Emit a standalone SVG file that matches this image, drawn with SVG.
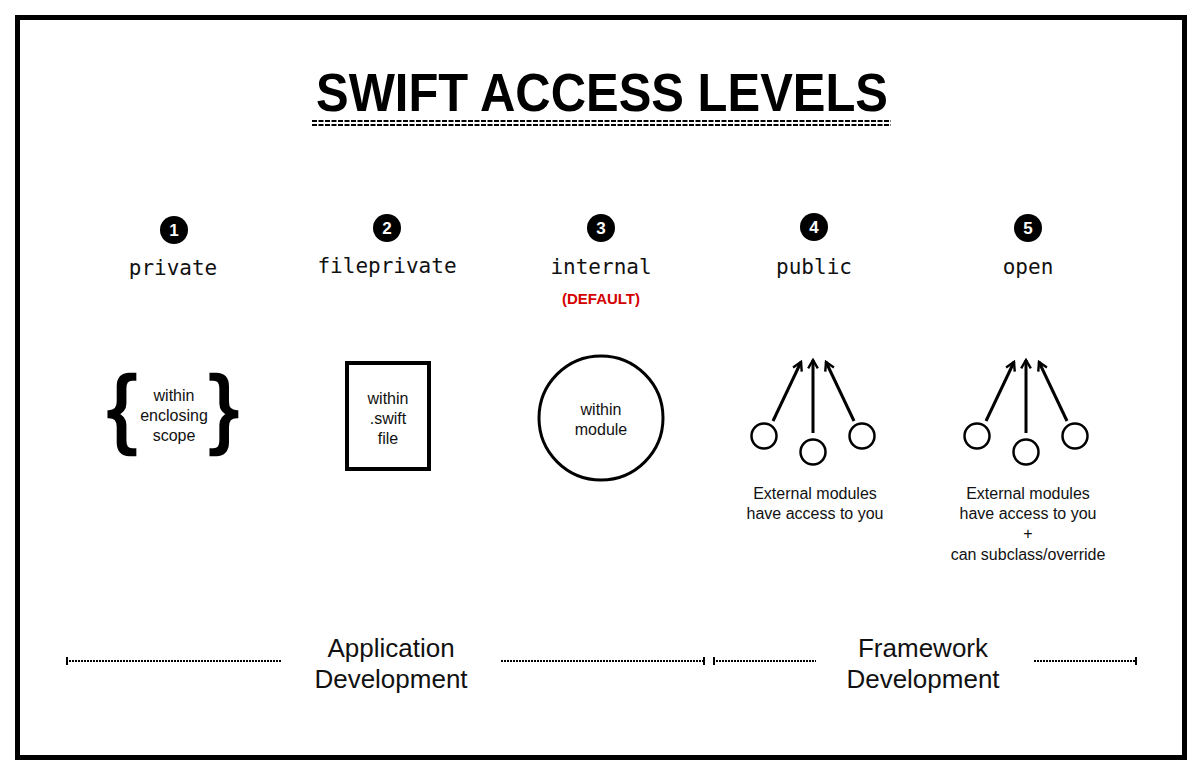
<svg xmlns="http://www.w3.org/2000/svg" width="1200" height="768" viewBox="0 0 1200 768">
<style>
.title{font-family:"Liberation Sans",Arial,sans-serif;font-weight:bold;font-size:54px;fill:#000}
.num{font-family:"Liberation Sans",Arial,sans-serif;font-weight:bold;font-size:17px;fill:#fff}
.mono{font-family:"DejaVu Sans Mono","Liberation Mono",monospace;font-size:21px;fill:#111}
.lbl{font-family:"Liberation Sans",Arial,sans-serif;font-size:16px;fill:#111}
.big{font-family:"Liberation Sans",Arial,sans-serif;font-size:26px;fill:#111}
.def{font-family:"Liberation Sans",Arial,sans-serif;font-weight:bold;font-size:15px;fill:#d40000}
.brace{font-family:"Liberation Sans",Arial,sans-serif;font-size:88px;fill:#000;stroke:#000;stroke-width:2.5}
.ring{fill:none;stroke:#000;stroke-width:2.5}
.arr{fill:none;stroke:#000;stroke-width:3;marker-end:url(#ah)}
.dl{stroke:#000;stroke-width:2;stroke-dasharray:2 1}
.tick{stroke:#000;stroke-width:2}
</style>
<defs>
<marker id="ah" viewBox="0 0 10 10" refX="8" refY="5" markerWidth="4" markerHeight="4" orient="auto" markerUnits="strokeWidth">
<path d="M1,1 L8,5 L1,9" fill="none" stroke="#000" stroke-width="2"/>
</marker>
</defs>
<rect x="0" y="0" width="1200" height="768" fill="#fff"/>
<rect x="17.5" y="17.5" width="1167" height="740" fill="none" stroke="#000" stroke-width="5"/>

<g id="title">
<text class="title" x="602" y="111" text-anchor="middle" textLength="572" lengthAdjust="spacingAndGlyphs">SWIFT ACCESS LEVELS</text>
<line x1="312" y1="121" x2="891" y2="121" stroke="#000" stroke-width="2" stroke-dasharray="5 1.5"/>
<line x1="312" y1="125" x2="891" y2="125" stroke="#000" stroke-width="2" stroke-dasharray="5 1.5"/>
</g>

<g id="private">
<circle cx="174" cy="230" r="14" fill="#000"/>
<text class="num" x="174" y="236" text-anchor="middle">1</text>
<text class="mono" x="173" y="275" text-anchor="middle">private</text>
<text class="brace" x="122" y="437" text-anchor="middle">{</text>
<text class="brace" x="224" y="437" text-anchor="middle">}</text>
<text class="lbl" x="174" y="401" text-anchor="middle">within</text>
<text class="lbl" x="174" y="421" text-anchor="middle">enclosing</text>
<text class="lbl" x="174" y="441" text-anchor="middle">scope</text>
</g>

<g id="fileprivate">
<circle cx="387" cy="228" r="14" fill="#000"/>
<text class="num" x="387" y="234" text-anchor="middle">2</text>
<text class="mono" x="387" y="273" text-anchor="middle">fileprivate</text>
<rect x="347" y="363" width="82" height="106" fill="none" stroke="#000" stroke-width="4"/>
<text class="lbl" x="388" y="404" text-anchor="middle">within</text>
<text class="lbl" x="388" y="424" text-anchor="middle">.swift</text>
<text class="lbl" x="388" y="444" text-anchor="middle">file</text>
</g>

<g id="internal">
<circle cx="601" cy="228" r="14" fill="#000"/>
<text class="num" x="601" y="234" text-anchor="middle">3</text>
<text class="mono" x="601" y="274" text-anchor="middle">internal</text>
<text class="def" x="601" y="304" text-anchor="middle">(DEFAULT)</text>
<circle cx="601" cy="418" r="62" fill="none" stroke="#000" stroke-width="3"/>
<text class="lbl" x="601" y="415" text-anchor="middle">within</text>
<text class="lbl" x="601" y="435" text-anchor="middle">module</text>
</g>

<g id="public">
<circle cx="814" cy="227" r="14" fill="#000"/>
<text class="num" x="814" y="233" text-anchor="middle">4</text>
<text class="mono" x="814" y="274" text-anchor="middle">public</text>
<circle class="ring" cx="764" cy="436" r="12.5"/>
<circle class="ring" cx="813" cy="452" r="12.5"/>
<circle class="ring" cx="862" cy="436" r="12.5"/>
<text class="lbl" x="815" y="499" text-anchor="middle">External modules</text>
<text class="lbl" x="815" y="519" text-anchor="middle">have access to you</text>
</g>

<g id="open">
<circle cx="1028" cy="228" r="14" fill="#000"/>
<text class="num" x="1028" y="234" text-anchor="middle">5</text>
<text class="mono" x="1028" y="274" text-anchor="middle">open</text>
<circle class="ring" cx="977" cy="436" r="12.5"/>
<circle class="ring" cx="1026" cy="452" r="12.5"/>
<circle class="ring" cx="1075" cy="436" r="12.5"/>
<text class="lbl" x="1028" y="499" text-anchor="middle">External modules</text>
<text class="lbl" x="1028" y="519" text-anchor="middle">have access to you</text>
<text class="lbl" x="1028" y="539" text-anchor="middle">+</text>
<text class="lbl" x="1028" y="560" text-anchor="middle">can subclass/override</text>
</g>

<g id="connectors">
<line class="arr" x1="773" y1="421" x2="801" y2="362"/>
<line class="arr" x1="813" y1="433" x2="813" y2="360"/>
<line class="arr" x1="854" y1="421" x2="826" y2="362"/>
<line class="arr" x1="986" y1="421" x2="1014" y2="362"/>
<line class="arr" x1="1026" y1="433" x2="1026" y2="360"/>
<line class="arr" x1="1067" y1="421" x2="1039" y2="362"/>
</g>

<g id="application">
<line class="dl" x1="66" y1="661" x2="281" y2="661"/>
<line class="tick" x1="67" y1="657" x2="67" y2="665"/>
<line class="dl" x1="501" y1="661" x2="705" y2="661"/>
<line class="tick" x1="704" y1="657" x2="704" y2="665"/>
<text class="big" x="391" y="657" text-anchor="middle">Application</text>
<text class="big" x="391" y="688" text-anchor="middle">Development</text>
</g>

<g id="framework">
<line class="dl" x1="713" y1="661" x2="816" y2="661"/>
<line class="tick" x1="714" y1="657" x2="714" y2="665"/>
<line class="dl" x1="1034" y1="661" x2="1137" y2="661"/>
<line class="tick" x1="1136" y1="657" x2="1136" y2="665"/>
<text class="big" x="923" y="657" text-anchor="middle">Framework</text>
<text class="big" x="923" y="688" text-anchor="middle">Development</text>
</g>
</svg>
